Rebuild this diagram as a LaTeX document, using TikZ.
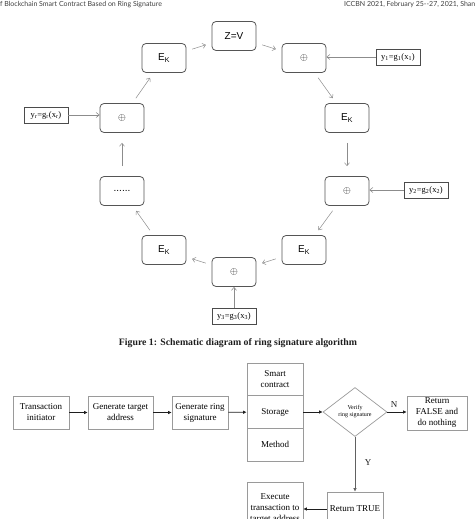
\documentclass[tikz,border=0pt]{standalone}
\usepackage{fontspec}
\setmainfont{Liberation Serif}
\setsansfont{Liberation Sans}
\newfontfamily\headfont{Lato}
\usepackage{xcolor}
\usetikzlibrary{arrows.meta,shapes.geometric,positioning}
\definecolor{edge}{HTML}{555555}
\definecolor{faintline}{HTML}{8C8C8C}
\definecolor{boxline}{HTML}{9A9A9A}
\definecolor{ink}{HTML}{1E1E1E}
\tikzset{
  ringbox/.style={draw=edge, rounded corners=4pt, line width=0.8pt, minimum width=44pt, minimum height=29pt, inner sep=0pt, font=\sffamily\fontsize{10}{12}\selectfont},
  inbox/.style={draw=ink!80, line width=0.9pt, minimum width=44pt, minimum height=16pt, inner sep=1pt, font=\fontsize{8.5}{10}\selectfont},
  ringarrow/.style={draw=faintline, line width=0.5pt, -{Straight Barb[length=3pt,width=5pt]}, shorten >=6pt, shorten <=6pt},
  inarrow/.style={draw=faintline, line width=0.6pt, -{Straight Barb[length=3pt,width=5pt]}},
  flowbox/.style={draw=boxline, line width=0.7pt, minimum height=33pt, align=center, inner sep=1pt, font=\fontsize{9}{11}\selectfont},
  flowarrow/.style={draw=ink, line width=0.7pt, -{Latex[length=3.5pt,width=3.5pt]}},
  lab/.style={text=ink, font=\fontsize{9}{10}\selectfont},
}

\begin{document}
\begin{tikzpicture}[x=1pt,y=-1pt]
  \useasboundingbox (0,0) rectangle (474,519);
  \clip (0,0) rectangle (474,519);

  % running head
  \node[anchor=west, inner sep=0pt, text=ink!85, font=\headfont\fontsize{7}{8}\selectfont] (headl) at (-4,5) {of Blockchain Smart Contract Based on Ring Signature};
  \node[anchor=west, inner sep=0pt, text=ink!85, font=\headfont\fontsize{7}{8}\selectfont] (headr) at (344,5) {ICCBN 2021, February 25--27, 2021, Shanghai};

  % ring of the signature
  \node[ringbox] (zv) at (234,36) {Z=V};
  \node[ringbox] (o1) at (304,58) {$\oplus$};
  \node[ringbox] (e1) at (347,118) {E\textsubscript{K}};
  \node[ringbox] (o2) at (347,191) {$\oplus$};
  \node[ringbox] (e2) at (304,250) {E\textsubscript{K}};
  \node[ringbox] (o3) at (234,272) {$\oplus$};
  \node[ringbox] (e3) at (164,250) {E\textsubscript{K}};
  \node[ringbox] (dots) at (122,191) {......};
  \node[ringbox] (or) at (122,118) {$\oplus$};
  \node[ringbox] (e0) at (164,58) {E\textsubscript{K}};

  \draw[ringarrow] (e0) -- (zv);
  \draw[ringarrow] (zv) -- (o1);
  \draw[ringarrow] (o1) -- (e1);
  \draw[ringarrow, shorten >=10pt, shorten <=10pt] (e1) -- (o2);
  \draw[ringarrow] (o2) -- (e2);
  \draw[ringarrow] (e2) -- (o3);
  \draw[ringarrow] (o3) -- (e3);
  \draw[ringarrow] (e3) -- (dots);
  \draw[ringarrow, shorten >=10pt, shorten <=10pt] (dots) -- (or);
  \draw[ringarrow] (or) -- (e0);

  % inputs y_i = g_i(x_i)
  \node[inbox] (in1) at (398,57) {y\textsubscript{1}=g\textsubscript{1}(x\textsubscript{1})};
  \node[inbox] (in2) at (426,190) {y\textsubscript{2}=g\textsubscript{2}(x\textsubscript{2})};
  \node[inbox] (in3) at (234,316) {y\textsubscript{3}=g\textsubscript{3}(x\textsubscript{3})};
  \node[inbox] (inr) at (46,115) {y\textsubscript{r}=g\textsubscript{r}(x\textsubscript{r})};

  \draw[inarrow] (in1) -- (in1 -| o1.east);
  \draw[inarrow] (in2) -- (in2 -| o2.east);
  \draw[inarrow] (in3) -- (o3);
  \draw[inarrow] (inr) -- (inr -| or.west);

  \node[font=\bfseries\fontsize{9.8}{11}\selectfont, text=ink] (cap) at (238,343) {Figure 1: Schematic diagram of ring signature algorithm};

  % flow of a transaction
  \node[flowbox, minimum width=56pt] (init) at (41,412.5) {Transaction\\initiator};
  \node[flowbox, minimum width=65pt] (addr) at (120.5,412.5) {Generate target\\address};
  \node[flowbox, minimum width=56pt] (sign) at (200,412.5) {Generate ring\\signature};
  \node[flowbox, minimum width=56pt, minimum height=32.7pt] (smart) at (275,379.4) {Smart\\contract};
  \node[flowbox, minimum width=56pt, minimum height=32.7pt] (store) at (275,412) {Storage};
  \node[flowbox, minimum width=56pt, minimum height=32.7pt] (meth) at (275,444.6) {Method};
  \node[diamond, draw=boxline, line width=0.7pt, minimum width=64pt, minimum height=49pt, inner sep=0pt, align=center, font=\fontsize{6}{7}\selectfont] (verify) at (355,412) {Verify\\ring signature};
  \node[flowbox, minimum width=60pt, minimum height=34pt] (false) at (437,413) {Return\\FALSE and\\do nothing};
  \node[flowbox, minimum width=56pt, minimum height=34pt] (true) at (355,509) {Return TRUE};
  \node[flowbox, minimum width=56pt, minimum height=54pt] (exec) at (275,509) {Execute\\transaction to\\target address};

  \draw[flowarrow] (init) -- (addr);
  \draw[flowarrow] (addr) -- (sign);
  \draw[flowarrow] (sign) -- (store);
  \draw[flowarrow] (store) -- (verify);
  \draw[flowarrow] (verify.east) -- (verify.east -| false.west);
  \draw[flowarrow, draw=ink!70, line width=1pt] (verify) -- (true);
  \draw[flowarrow] (true) -- (exec);

  \node[lab] (nlab) at (394,405) {N};
  \node[lab] (ylab) at (368,463) {Y};
\end{tikzpicture}
\end{document}
